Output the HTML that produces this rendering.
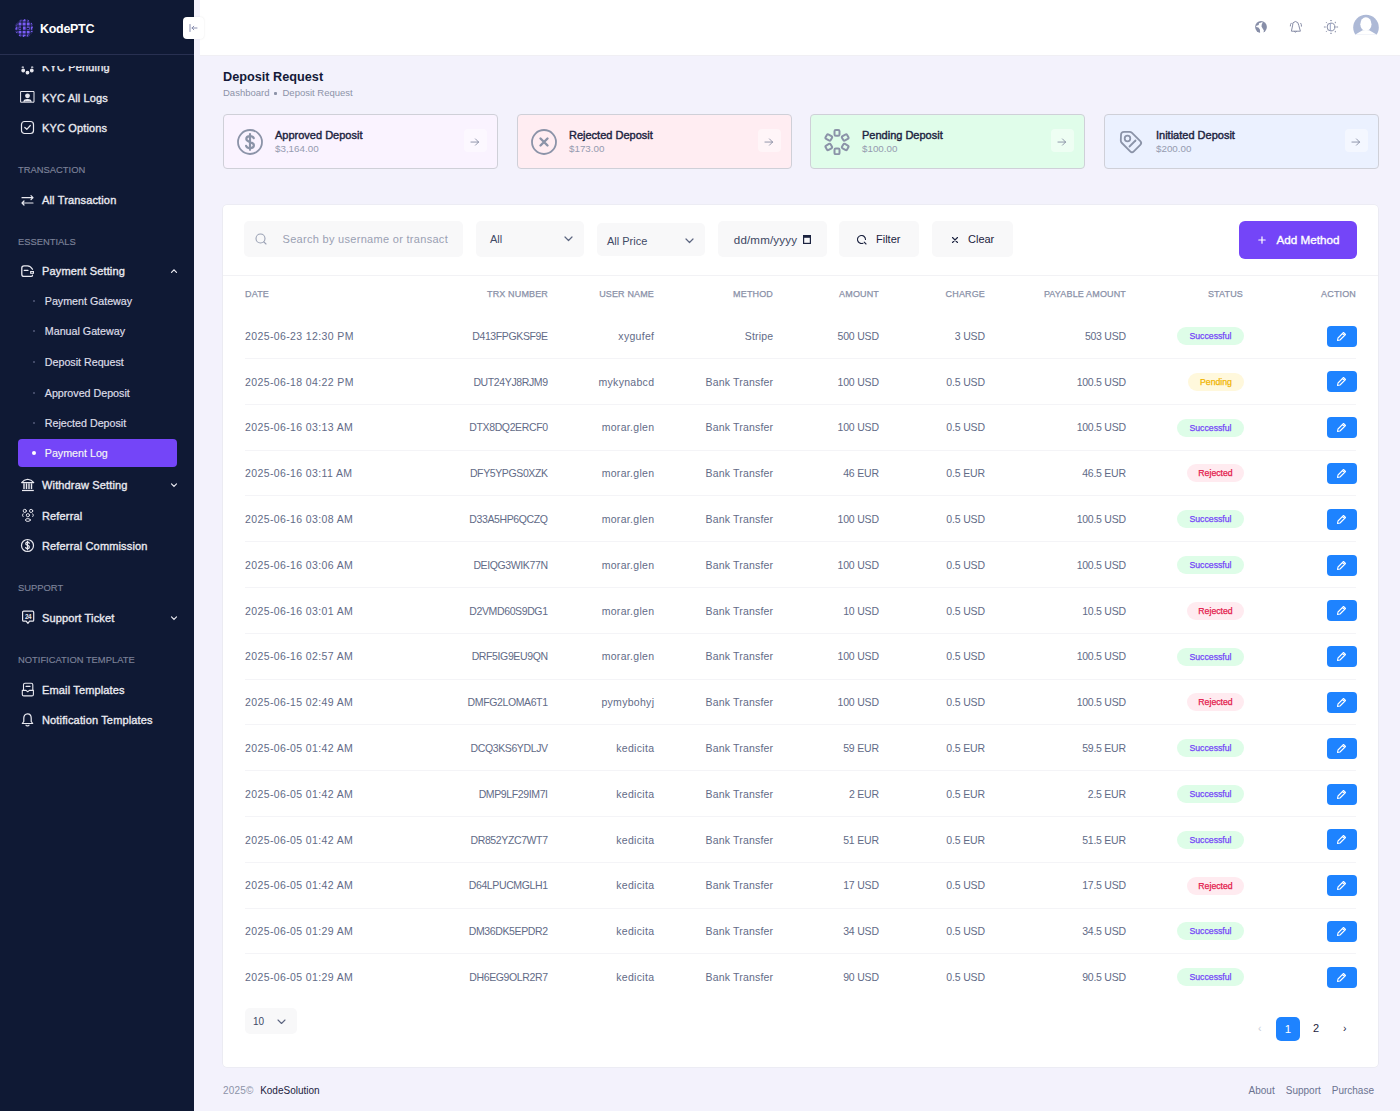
<!DOCTYPE html>
<html><head><meta charset="utf-8">
<style>
*{box-sizing:border-box;margin:0;padding:0}
html,body{width:1400px;height:1111px;overflow:hidden}
body{font-family:"Liberation Sans",sans-serif;background:#f3f2fc;position:relative;color:#5c6580}
.abs{position:absolute}
#sb{position:absolute;left:0;top:0;width:194px;height:1111px;background:#0f1934;overflow:hidden}
#sbhead{position:absolute;left:0;top:0;width:194px;height:55px;border-bottom:1px solid #283051;background:#0f1934;z-index:2}
.logo-t{position:absolute;left:40px;top:22px;font-size:12.5px;font-weight:bold;color:#fff;letter-spacing:-0.3px}
.si{position:absolute;left:0;width:194px;height:20px;color:#e9e9f0;font-size:11px;white-space:nowrap;-webkit-text-stroke:0.35px #e9e9f0;letter-spacing:0.15px}
.si .t{position:absolute;left:42px;top:4px}
.si>svg{position:absolute}
.lbl{position:absolute;left:18px;font-size:9.4px;color:#7d8299;white-space:nowrap;-webkit-text-stroke:0.15px #7d8299}
.sub{position:absolute;left:18px;width:159px;height:28px;color:#dcdce6;font-size:10.7px;white-space:nowrap;-webkit-text-stroke:0.2px #dcdce6}
.sub .t{position:absolute;left:26.8px;top:8px}
.sub .dot{position:absolute;left:14.5px;top:12.6px;width:2.6px;height:2.6px;border-radius:2px;background:#535a78}
.sub.act{background:#7445f8;border-radius:4px;color:#fff}
.sub.act .dot{background:#fff;width:3.4px;height:3.4px;left:14.2px;top:12.2px}
.chev{position:absolute;left:170px;top:6px}
#hdr{position:absolute;left:200px;top:0;width:1200px;height:56px;background:#fff;border-bottom:1px solid #f0eff4}
#tog{position:absolute;left:183px;top:17px;width:21px;height:22px;background:#fff;border-radius:4px;z-index:5;box-shadow:0 0 2px rgba(0,0,0,.1)}
.ttl{left:223px;top:70px;font-size:12.7px;font-weight:bold;color:#141a38}
.bc{left:223px;top:87px;font-size:9.5px;color:#8d93a8;white-space:nowrap}
.bdot{display:inline-block;width:3px;height:3px;background:#8d93a8;border-radius:1px;margin:0 5px;vertical-align:middle}
.card{position:absolute;top:114px;width:275px;height:55px;border:1px solid #cfd0d8;border-radius:4px}
.ct{position:absolute;left:51px;top:14px;font-size:11px;color:#1c2340;white-space:nowrap;-webkit-text-stroke:0.4px #1c2340}
.cv{position:absolute;left:51px;top:28px;font-size:9.8px;color:#959bb0;white-space:nowrap}
.carr{position:absolute;left:240px;top:14px;width:23px;height:23px;background:rgba(255,255,255,.45);border-radius:4px}
#tc{position:absolute;left:223px;top:204px;width:1155px;height:863px}
#tcbg{position:absolute;left:223px;top:205px;width:1155px;height:862px;background:#fff;border-radius:4px;box-shadow:0 0 0 0.6px #e6e6ec}
.fb{position:absolute;background:#f8f8f9;border-radius:5px}
.ph{position:absolute;left:38.5px;top:12px;font-size:11px;color:#9aa0b3;white-space:nowrap;letter-spacing:0.3px}
.ft{position:absolute;top:12px;font-size:11px;color:#414a66;white-space:nowrap}
#addm{position:absolute;left:1016px;top:17px;width:118px;height:38px;background:#7445f8;border-radius:6px;color:#fff;font-size:11.7px;-webkit-text-stroke:0.35px #fff}
#addm span{position:absolute;left:37.5px;top:12px;white-space:nowrap}
.hl{position:absolute;left:0;width:1155px;height:1px;background:#f2f2f5}
.th{position:absolute;top:85px;font-size:9px;color:#8a91a8;white-space:nowrap;letter-spacing:0.15px;-webkit-text-stroke:0.25px #8a91a8}
.td{position:absolute;font-size:10.5px;color:#626b87;white-space:nowrap}
.r{text-align:right}
.bd{position:absolute;right:134px;height:18px;border-radius:9px;font-size:8.7px;padding:4px 0 0;text-align:center;white-space:nowrap;-webkit-text-stroke:0.25px currentColor}
.bs{background:#defde8;color:#7445f8;width:67px}
.bp{background:#fff8dc;color:#f0b400;width:56px}
.br{background:#ffebf0;color:#e3194b;width:57px}
.eb{position:absolute;left:1104px;width:30px;height:21px;background:#1e83ff;border-radius:4px}
.rl{position:absolute;left:22px;width:1111px;height:1px;background:#f4f4f7}
.pg{position:absolute;top:818px;font-size:10.5px}
#p1{position:absolute;left:1053px;top:813px;width:24px;height:24px;background:#1e83ff;border-radius:5px;color:#fff;font-size:11.5px;text-align:center;padding-top:5.5px}
.ft1{left:223px;top:1085px;letter-spacing:0.2px;font-size:10px;color:#8d93a8;white-space:nowrap}
.ft2{right:26px;top:1085px;font-size:10px;color:#6b7390;white-space:nowrap}

</style></head>
<body>
<div id="hdr"><svg class="abs" style="left:1055px;top:20.8px" width="12" height="12" viewBox="0 0 12 12"><circle cx="6" cy="6" r="5.9" fill="#878ea8"/><path d="M7.3 1.1 L5.6 1.8 L4 2.3 L3.7 3.9 L1 5 L1.3 6 L3.4 6.5 L4.9 8.4 L5.1 11.9 L8.4 11.9 L8.9 9.6 L7.5 7.2 L6.5 5.6 L6.8 3.2 L7.6 1.8Z" fill="#fff"/></svg><svg class="abs" style="left:1088px;top:19px" width="16" height="16" viewBox="0 0 16 16" fill="none" stroke="#868ca6" stroke-width="1" stroke-linecap="round" stroke-linejoin="round"><path d="M5.2 3.6 Q7.4 1.2 9.8 3.6 L10.8 6.5 L12.4 12.2 H3.4 L4.6 6.5 Z"/><path d="M6.3 12.6 Q7.4 14 8.6 12.6"/><path d="M2.3 7 Q2.1 5.4 3.2 4.2"/><path d="M13.5 7.2 Q13.7 5.6 12.8 4.3"/></svg><svg class="abs" style="left:1123px;top:19.4px" width="16" height="16" viewBox="0 0 16 16" fill="none" stroke="#868ca6" stroke-width="1" stroke-linecap="round"><circle cx="8" cy="8" r="3.9"/><path d="M7.3 4.3 V11.7" stroke="#9aa6c8"/><path d="M7.6 1.6 H8.4 M7.6 14.3 H8.4 M1.3 8 H2.3 M13.7 8 H14.7 M3.4 3.5 L3.8 3.9 M12.3 3.2 V3.8 M3.4 12.5 L3.8 12.1 M12.3 12.3 V12.9"/></svg><svg class="abs" style="left:1153px;top:14px" width="26" height="26" viewBox="0 0 26 26"><defs><clipPath id="avc"><circle cx="13" cy="13.5" r="12.8"/></clipPath></defs><g clip-path="url(#avc)"><rect x="0" y="0" width="26" height="21" fill="#adb9d6"/><g fill="#fff"><ellipse cx="12.9" cy="10.2" rx="5.6" ry="6.9"/><path d="M9.6 16.3 L2 20.8 H24 L16.2 16.3 Z"/><rect x="0" y="20.6" width="26" height="6"/></g></g></svg></div>
<div id="sb"><div class="si" style="top:57px"><svg style="left:20px;top:2px" width="15" height="16" viewBox="0 0 15 16" fill="none" stroke="#e9e9f0" stroke-width="1.2" stroke-linecap="round" stroke-linejoin="round"><circle cx="3.2" cy="11.5" r="1.3" fill="#e9e9f0"/><circle cx="7.5" cy="13.6" r="1.3" fill="#e9e9f0"/><circle cx="11.8" cy="11.5" r="1.3" fill="#e9e9f0"/><path d="M2.2 8.2 H3.4 M11.6 8.2 H12.8"/></svg><span class="t">KYC Pending</span></div><div class="si" style="top:88px"><svg style="left:20px;top:2px" width="15" height="15" viewBox="0 0 15 15" fill="none" stroke="#e9e9f0" stroke-width="1.2" stroke-linecap="round" stroke-linejoin="round"><path d="M1 1.5 H14 V12.2 H1Z" stroke-width="1"/><circle cx="7.5" cy="5.8" r="1.8" fill="#e9e9f0"/><path d="M4 11.5 C4.5 9 10.5 9 11 11.5" fill="#e9e9f0"/></svg><span class="t">KYC All Logs</span></div><div class="si" style="top:118px"><svg style="left:20px;top:2px" width="15" height="15" viewBox="0 0 15 15" fill="none" stroke="#e9e9f0" stroke-width="1.2" stroke-linecap="round" stroke-linejoin="round"><rect x="1.5" y="1.5" width="12" height="12" rx="3"/><path d="M4.8 7.5 L6.8 9.3 L10.3 5.5"/></svg><span class="t">KYC Options</span></div><div class="lbl" style="top:164px">TRANSACTION</div><div class="si" style="top:190px"><svg style="left:20px;top:2px" width="15" height="15" viewBox="0 0 15 15" fill="none" stroke="#e9e9f0" stroke-width="1.2" stroke-linecap="round" stroke-linejoin="round"><path d="M2 5.7 H13 M11 3.7 L13 5.7 L11 7.7 M13 11 H2 M4 9 L2 11 L4 13"/></svg><span class="t">All Transaction</span></div><div class="lbl" style="top:236px">ESSENTIALS</div><div class="si" style="top:261px"><svg style="left:20px;top:2px" width="15" height="16" viewBox="0 0 15 16" fill="none" stroke="#e9e9f0" stroke-width="1.2" stroke-linecap="round" stroke-linejoin="round"><path d="M12.5 6.3 Q10.5 2.8 7.5 2.8 H4 Q1.8 2.8 1.8 5 V11.2 Q1.8 13.4 4 13.4 H11 Q12.5 13.4 12.5 12.2" stroke-width="1.3"/><path d="M4.2 7.4 H8" stroke-width="1.1"/><rect x="10.1" y="8" width="3.9" height="2.8" fill="#e9e9f0" stroke="none"/><rect x="11.3" y="9" width="1.5" height="0.8" fill="#0f1934" stroke="none"/></svg><span class="t">Payment Setting</span><svg class="chev" width="8" height="8" viewBox="0 0 8 8" fill="none" stroke="#e9e9f0" stroke-width="1.2" stroke-linecap="round"><path d="M1.5 5.3 L4 2.8 L6.5 5.3"/></svg></div><div class="sub" style="top:287px"><span class="dot"></span><span class="t">Payment Gateway</span></div><div class="sub" style="top:317px"><span class="dot"></span><span class="t">Manual Gateway</span></div><div class="sub" style="top:348px"><span class="dot"></span><span class="t">Deposit Request</span></div><div class="sub" style="top:379px"><span class="dot"></span><span class="t">Approved Deposit</span></div><div class="sub" style="top:409px"><span class="dot"></span><span class="t">Rejected Deposit</span></div><div class="sub act" style="top:439px"><span class="dot"></span><span class="t">Payment Log</span></div><div class="si" style="top:475px"><svg style="left:20px;top:2px" width="15" height="16" viewBox="0 0 15 16" fill="none" stroke="#e9e9f0" stroke-width="1.2" stroke-linecap="round" stroke-linejoin="round"><path d="M1.6 5.6 Q4 2.7 7.7 2.3 Q11.4 2.7 13.8 5.6 Z" stroke-width="1.1"/><g fill="#e9e9f0" stroke="none"><rect x="3.3" y="6.3" width="1.4" height="5.8"/><rect x="5.8" y="6.3" width="1.4" height="5.8"/><rect x="8.3" y="6.3" width="1.4" height="5.8"/><rect x="10.8" y="6.3" width="1.4" height="5.8"/><rect x="2" y="12.9" width="11.8" height="1.2"/></g></svg><span class="t">Withdraw Setting</span><svg class="chev" width="8" height="8" viewBox="0 0 8 8" fill="none" stroke="#e9e9f0" stroke-width="1.2" stroke-linecap="round"><path d="M1.5 2.8 L4 5.3 L6.5 2.8"/></svg></div><div class="si" style="top:506px"><svg style="left:20px;top:2px" width="15" height="16" viewBox="0 0 15 16" fill="none" stroke="#e9e9f0" stroke-width="1.2" stroke-linecap="round" stroke-linejoin="round"><g stroke-width="0.95"><circle cx="4.8" cy="2.9" r="1.6"/><circle cx="11.1" cy="2.9" r="1.6"/><circle cx="7.9" cy="7.2" r="1.6"/><ellipse cx="7.9" cy="12" rx="2.5" ry="1.4"/><path d="M3 5.8 Q1.6 7.2 3 8.6 M12.8 5.8 Q14.2 7.2 12.8 8.6"/></g></svg><span class="t">Referral</span></div><div class="si" style="top:536px"><svg style="left:20px;top:2px" width="15" height="15" viewBox="0 0 15 15" fill="none" stroke="#e9e9f0" stroke-width="1.2" stroke-linecap="round" stroke-linejoin="round"><circle cx="7.5" cy="7.5" r="6"/><path d="M9.3 5.3 C9 4.5 8.3 4.2 7.5 4.2 C6.5 4.2 5.7 4.8 5.7 5.7 C5.7 7.5 9.4 6.8 9.4 9 C9.4 10 8.5 10.7 7.5 10.7 C6.6 10.7 5.9 10.3 5.6 9.5 M7.5 3.2 V11.8"/></svg><span class="t">Referral Commission</span></div><div class="lbl" style="top:582px">SUPPORT</div><div class="si" style="top:608px"><svg style="left:20px;top:2px" width="15" height="16" viewBox="0 0 15 16" fill="none" stroke="#e9e9f0" stroke-width="1.2" stroke-linecap="round" stroke-linejoin="round"><path d="M2.6 2.2 Q2.6 1.1 3.7 1.1 H12.6 Q13.7 1.1 13.7 2.2 V10.2 Q13.7 11.2 12.6 11.2 H9.6 L7.9 13.4 L6.2 11.2 H3.7 Q2.6 11.2 2.6 10.2 Z" stroke-width="1.2"/><text x="8.1" y="9" text-anchor="middle" font-size="6.3" font-weight="bold" fill="#e9e9f0" stroke="none" font-family="Liberation Sans" letter-spacing="-0.3">24</text></svg><span class="t">Support Ticket</span><svg class="chev" width="8" height="8" viewBox="0 0 8 8" fill="none" stroke="#e9e9f0" stroke-width="1.2" stroke-linecap="round"><path d="M1.5 2.8 L4 5.3 L6.5 2.8"/></svg></div><div class="lbl" style="top:654px">NOTIFICATION TEMPLATE</div><div class="si" style="top:680px"><svg style="left:20px;top:2px" width="15" height="16" viewBox="0 0 15 16" fill="none" stroke="#e9e9f0" stroke-width="1.2" stroke-linecap="round" stroke-linejoin="round"><path d="M3.5 8 V2.8 Q3.5 1.2 5 1.2 H11.2 Q12.8 1.2 12.8 2.8 V8" stroke-width="1.1"/><path d="M6 4.4 H10" stroke-width="1.1"/><path d="M2.3 8.4 H6 L7.7 9.7 L9.4 8.4 H13.4 V12.4 Q13.4 13.9 11.9 13.9 H3.8 Q2.3 13.9 2.3 12.4 Z" stroke-width="1.1"/></svg><span class="t">Email Templates</span></div><div class="si" style="top:710px"><svg style="left:20px;top:2px" width="15" height="15" viewBox="0 0 15 15" fill="none" stroke="#e9e9f0" stroke-width="1.2" stroke-linecap="round" stroke-linejoin="round"><path d="M7.5 1.8 C5 1.8 3.8 3.8 3.8 6 V9.5 L2.3 11.5 H12.7 L11.2 9.5 V6 C11.2 3.8 10 1.8 7.5 1.8Z"/><path d="M6 13.2 C6.5 14 8.5 14 9 13.2"/></svg><span class="t">Notification Templates</span></div><div class="abs" style="left:0;top:54px;width:194px;height:12px;background:#0f1934;z-index:1"></div><div id="sbhead"><svg class="abs" style="left:14.9px;top:18.6px" width="18.4" height="18.4" viewBox="0 0 18.4 18.4"><circle cx="9.2" cy="9.2" r="9.1" fill="#7a5df6"/><g stroke="#0f1934" stroke-width="1.1" fill="none"><path d="M0 3 H18.4 M0 7 H18.4 M0 11.2 H18.4 M0 15 H18.4 M3 0 V18.4 M7 0 V18.4 M11.2 0 V18.4 M15.2 0 V18.4"/><path d="M7 7 V11.2 M5 8.5 V10 M12 9.5 H14" stroke-width="1.5"/></g><circle cx="9.2" cy="9.2" r="8.6" fill="none" stroke="#0f1934" stroke-width="1" stroke-dasharray="2.2 1.6"/></svg><div class="logo-t">KodePTC</div></div></div>
<div id="tog"><svg class="abs" style="left:6px;top:7px" width="9" height="8" viewBox="0 0 9 8" fill="none" stroke="#8a8fb0" stroke-width="1" stroke-linecap="round"><path d="M1 0.5 V7.5 M8 4 H3 M4.8 2.2 L3 4 L4.8 5.8"/></svg></div>
<div class="abs ttl">Deposit Request</div><div class="abs bc">Dashboard<span class="bdot"></span>Deposit Request</div>
<div class="card" style="left:223px;background:#faf3ff"><svg class="abs" style="left:13px;top:14px" width="26" height="26" viewBox="0 0 26 26" fill="none" stroke="#8b93a8" stroke-width="1.8" stroke-linecap="round" stroke-linejoin="round"><circle cx="13" cy="13" r="12"/><path d="M16.8 9.2 C16.2 7.8 14.8 7.2 13 7.2 C10.8 7.2 9.3 8.4 9.3 10.1 C9.3 13.9 16.9 12.3 16.9 16.2 C16.9 18 15.3 19.1 13 19.1 C11 19.1 9.6 18.3 9.1 16.8 M13 5.2 V20.8" stroke-width="2.2"/></svg><div class="ct">Approved Deposit</div><div class="cv">$3,164.00</div><div class="carr"><svg class="abs" style="left:5.5px;top:8.5px" width="10" height="9" viewBox="0 0 10 10" fill="none" stroke="#7a8299" stroke-width="0.9" stroke-linecap="round" stroke-linejoin="round"><path d="M0.5 4.5 H9 M5.5 1 L9 4.5 L5.5 8"/></svg></div></div>
<div class="card" style="left:517px;background:#ffedf2"><svg class="abs" style="left:13px;top:14px" width="26" height="26" viewBox="0 0 26 26" fill="none" stroke="#8b93a8" stroke-width="1.8" stroke-linecap="round" stroke-linejoin="round"><circle cx="13" cy="13" r="12"/><path d="M9.5 9.5 L16.5 16.5 M16.5 9.5 L9.5 16.5" stroke-width="2.4"/></svg><div class="ct">Rejected Deposit</div><div class="cv">$173.00</div><div class="carr"><svg class="abs" style="left:5.5px;top:8.5px" width="10" height="9" viewBox="0 0 10 10" fill="none" stroke="#7a8299" stroke-width="0.9" stroke-linecap="round" stroke-linejoin="round"><path d="M0.5 4.5 H9 M5.5 1 L9 4.5 L5.5 8"/></svg></div></div>
<div class="card" style="left:810px;background:#e0fdea"><svg class="abs" style="left:13px;top:14px" width="26" height="26" viewBox="0 0 26 26" fill="none" stroke="#8b93a8" stroke-width="1.8" stroke-linecap="round" stroke-linejoin="round"><rect x="10.5" y="1" width="5" height="5.8" rx="1.3" stroke-width="2" transform="rotate(0 13.0 3.9)"/><rect x="10.5" y="19.4" width="5" height="5.8" rx="1.3" stroke-width="2" transform="rotate(0 13.0 22.299999999999997)"/><rect x="2.3" y="5.6" width="5" height="5.8" rx="1.3" stroke-width="2" transform="rotate(-60 4.8 8.5)"/><rect x="18.7" y="5.6" width="5" height="5.8" rx="1.3" stroke-width="2" transform="rotate(60 21.2 8.5)"/><rect x="2.3" y="15" width="5" height="5.8" rx="1.3" stroke-width="2" transform="rotate(60 4.8 17.9)"/><rect x="18.7" y="15" width="5" height="5.8" rx="1.3" stroke-width="2" transform="rotate(-60 21.2 17.9)"/></svg><div class="ct">Pending Deposit</div><div class="cv">$100.00</div><div class="carr"><svg class="abs" style="left:5.5px;top:8.5px" width="10" height="9" viewBox="0 0 10 10" fill="none" stroke="#7a8299" stroke-width="0.9" stroke-linecap="round" stroke-linejoin="round"><path d="M0.5 4.5 H9 M5.5 1 L9 4.5 L5.5 8"/></svg></div></div>
<div class="card" style="left:1104px;background:#ebf1ff"><svg class="abs" style="left:13px;top:14px" width="26" height="26" viewBox="0 0 26 26" fill="none" stroke="#8b93a8" stroke-width="1.8" stroke-linecap="round" stroke-linejoin="round"><path d="M3 6 C3 4 4.2 2.8 6 2.8 H11.5 C12.5 2.8 13.3 3.2 14 3.9 L22.3 12.2 C23.3 13.2 23.3 14.8 22.3 15.8 L15.8 22.3 C14.8 23.3 13.2 23.3 12.2 22.3 L3.9 14 C3.2 13.3 2.8 12.5 2.8 11.5Z"/><circle cx="9.5" cy="9.5" r="2.8"/><path d="M11.5 17.5 L17.5 11.5"/></svg><div class="ct">Initiated Deposit</div><div class="cv">$200.00</div><div class="carr"><svg class="abs" style="left:5.5px;top:8.5px" width="10" height="9" viewBox="0 0 10 10" fill="none" stroke="#7a8299" stroke-width="0.9" stroke-linecap="round" stroke-linejoin="round"><path d="M0.5 4.5 H9 M5.5 1 L9 4.5 L5.5 8"/></svg></div></div>
<div id="tcbg"></div><div id="tc"><div class="fb" style="left:21px;top:17px;width:219px;height:36px"><svg class="abs" style="left:11px;top:12px" width="12" height="12" viewBox="0 0 12 12" fill="none" stroke="#9aa1b4" stroke-width="1.1" stroke-linecap="round"><circle cx="5.5" cy="5.5" r="4.5"/><path d="M8.8 8.8 L11 11"/></svg><span class="ph">Search by username or transact</span></div><div class="fb" style="left:253px;top:17px;width:108px;height:36px"><span class="ft" style="left:14px">All</span><svg class="abs" style="left:88px;top:15px" width="9" height="6" viewBox="0 0 9 6" fill="none" stroke="#5c6580" stroke-width="1.2" stroke-linecap="round" stroke-linejoin="round"><path d="M1 1 L4.5 4.5 L8 1"/></svg></div><div class="fb" style="left:374px;top:19px;width:108px;height:33px"><span class="ft" style="left:10px;top:12px">All Price</span><svg class="abs" style="left:88px;top:15px" width="9" height="6" viewBox="0 0 9 6" fill="none" stroke="#5c6580" stroke-width="1.2" stroke-linecap="round" stroke-linejoin="round"><path d="M1 1 L4.5 4.5 L8 1"/></svg></div><div class="fb" style="left:495px;top:17px;width:109px;height:36px"><span class="ft" style="left:15.8px;top:11.5px;font-size:11.6px;letter-spacing:0.15px;color:#3d4663">dd/mm/yyyy</span><svg class="abs" style="left:84.5px;top:13.5px" width="8" height="9" viewBox="0 0 8 9"><rect x="0.6" y="0.6" width="6.8" height="7.8" fill="none" stroke="#1c2340" stroke-width="1.2"/><rect x="0.6" y="0.6" width="6.8" height="2.2" fill="#1c2340"/></svg></div><div class="fb" style="left:616px;top:17px;width:80px;height:36px"><svg class="abs" style="left:18px;top:14px" width="10" height="10" viewBox="0 0 10 10" fill="none" stroke="#1c2340" stroke-width="1.1" stroke-linecap="round"><path d="M8.5 4.5 A4 4 0 1 0 6 8.2"/><path d="M7.2 7.2 L9 9"/></svg><span class="ft" style="left:37px;color:#1c2340">Filter</span></div><div class="fb" style="left:709px;top:17px;width:81px;height:36px"><svg class="abs" style="left:19px;top:15px" width="8" height="8" viewBox="0 0 8 8" fill="none" stroke="#1c2340" stroke-width="1.1" stroke-linecap="round"><path d="M1.5 1.5 L6.5 6.5 M6.5 1.5 L1.5 6.5"/></svg><span class="ft" style="left:36px;color:#1c2340">Clear</span></div><div id="addm"><svg class="abs" style="left:18.5px;top:15px" width="8" height="8" viewBox="0 0 8 8" fill="none" stroke="#fff" stroke-width="1.2" stroke-linecap="round"><path d="M4 0.8 V7.2 M0.8 4 H7.2"/></svg><span>Add Method</span></div><div class="hl" style="top:71px"></div><div class="th" style="left:22px">DATE</div><div class="th r" style="right:830px">TRX NUMBER</div><div class="th r" style="right:724px">USER NAME</div><div class="th r" style="right:605px">METHOD</div><div class="th r" style="right:499px">AMOUNT</div><div class="th r" style="right:393px">CHARGE</div><div class="th r" style="right:252px">PAYABLE AMOUNT</div><div class="th r" style="right:135px">STATUS</div><div class="th r" style="right:22px">ACTION</div><div class="td" style="left:22px;top:125.7px;letter-spacing:0.38px">2025-06-23 12:30 PM</div><div class="td r" style="right:830px;top:125.7px;letter-spacing:-0.38px;margin-right:0.38px">D413FPGKSF9E</div><div class="td r" style="right:724px;top:125.7px;letter-spacing:0.3px;margin-right:-0.3px">xygufef</div><div class="td r" style="right:605px;top:125.7px;letter-spacing:0.17px;margin-right:-0.17px">Stripe</div><div class="td r" style="right:499px;top:125.7px;letter-spacing:-0.2px;margin-right:0.2px">500 USD</div><div class="td r" style="right:393px;top:125.7px;letter-spacing:-0.15px;margin-right:0.15px">3 USD</div><div class="td r" style="right:252px;top:125.7px;letter-spacing:-0.25px;margin-right:0.25px">503 USD</div><div class="bd bs" style="top:123.0px">Successful</div><div class="eb" style="top:121.5px"><svg class="abs" style="left:9px;top:5px" width="11" height="11" viewBox="0 0 11 11" fill="none" stroke="#fff" stroke-width="1.1" stroke-linejoin="round"><path d="M7.5 1.5 L9.5 3.5 L4 9 L1.5 9.5 L2 7 Z M6.5 2.5 L8.5 4.5"/></svg></div><div class="rl" style="top:154.0px"></div><div class="td" style="left:22px;top:171.5px;letter-spacing:0.38px">2025-06-18 04:22 PM</div><div class="td r" style="right:830px;top:171.5px;letter-spacing:-0.38px;margin-right:0.38px">DUT24YJ8RJM9</div><div class="td r" style="right:724px;top:171.5px;letter-spacing:0.3px;margin-right:-0.3px">mykynabcd</div><div class="td r" style="right:605px;top:171.5px;letter-spacing:0.17px;margin-right:-0.17px">Bank Transfer</div><div class="td r" style="right:499px;top:171.5px;letter-spacing:-0.2px;margin-right:0.2px">100 USD</div><div class="td r" style="right:393px;top:171.5px;letter-spacing:-0.15px;margin-right:0.15px">0.5 USD</div><div class="td r" style="right:252px;top:171.5px;letter-spacing:-0.25px;margin-right:0.25px">100.5 USD</div><div class="bd bp" style="top:168.8px">Pending</div><div class="eb" style="top:167.3px"><svg class="abs" style="left:9px;top:5px" width="11" height="11" viewBox="0 0 11 11" fill="none" stroke="#fff" stroke-width="1.1" stroke-linejoin="round"><path d="M7.5 1.5 L9.5 3.5 L4 9 L1.5 9.5 L2 7 Z M6.5 2.5 L8.5 4.5"/></svg></div><div class="rl" style="top:199.8px"></div><div class="td" style="left:22px;top:217.3px;letter-spacing:0.38px">2025-06-16 03:13 AM</div><div class="td r" style="right:830px;top:217.3px;letter-spacing:-0.38px;margin-right:0.38px">DTX8DQ2ERCF0</div><div class="td r" style="right:724px;top:217.3px;letter-spacing:0.3px;margin-right:-0.3px">morar.glen</div><div class="td r" style="right:605px;top:217.3px;letter-spacing:0.17px;margin-right:-0.17px">Bank Transfer</div><div class="td r" style="right:499px;top:217.3px;letter-spacing:-0.2px;margin-right:0.2px">100 USD</div><div class="td r" style="right:393px;top:217.3px;letter-spacing:-0.15px;margin-right:0.15px">0.5 USD</div><div class="td r" style="right:252px;top:217.3px;letter-spacing:-0.25px;margin-right:0.25px">100.5 USD</div><div class="bd bs" style="top:214.6px">Successful</div><div class="eb" style="top:213.1px"><svg class="abs" style="left:9px;top:5px" width="11" height="11" viewBox="0 0 11 11" fill="none" stroke="#fff" stroke-width="1.1" stroke-linejoin="round"><path d="M7.5 1.5 L9.5 3.5 L4 9 L1.5 9.5 L2 7 Z M6.5 2.5 L8.5 4.5"/></svg></div><div class="rl" style="top:245.6px"></div><div class="td" style="left:22px;top:263.1px;letter-spacing:0.38px">2025-06-16 03:11 AM</div><div class="td r" style="right:830px;top:263.1px;letter-spacing:-0.38px;margin-right:0.38px">DFY5YPGS0XZK</div><div class="td r" style="right:724px;top:263.1px;letter-spacing:0.3px;margin-right:-0.3px">morar.glen</div><div class="td r" style="right:605px;top:263.1px;letter-spacing:0.17px;margin-right:-0.17px">Bank Transfer</div><div class="td r" style="right:499px;top:263.1px;letter-spacing:-0.2px;margin-right:0.2px">46 EUR</div><div class="td r" style="right:393px;top:263.1px;letter-spacing:-0.15px;margin-right:0.15px">0.5 EUR</div><div class="td r" style="right:252px;top:263.1px;letter-spacing:-0.25px;margin-right:0.25px">46.5 EUR</div><div class="bd br" style="top:260.4px">Rejected</div><div class="eb" style="top:258.9px"><svg class="abs" style="left:9px;top:5px" width="11" height="11" viewBox="0 0 11 11" fill="none" stroke="#fff" stroke-width="1.1" stroke-linejoin="round"><path d="M7.5 1.5 L9.5 3.5 L4 9 L1.5 9.5 L2 7 Z M6.5 2.5 L8.5 4.5"/></svg></div><div class="rl" style="top:291.4px"></div><div class="td" style="left:22px;top:308.9px;letter-spacing:0.38px">2025-06-16 03:08 AM</div><div class="td r" style="right:830px;top:308.9px;letter-spacing:-0.38px;margin-right:0.38px">D33A5HP6QCZQ</div><div class="td r" style="right:724px;top:308.9px;letter-spacing:0.3px;margin-right:-0.3px">morar.glen</div><div class="td r" style="right:605px;top:308.9px;letter-spacing:0.17px;margin-right:-0.17px">Bank Transfer</div><div class="td r" style="right:499px;top:308.9px;letter-spacing:-0.2px;margin-right:0.2px">100 USD</div><div class="td r" style="right:393px;top:308.9px;letter-spacing:-0.15px;margin-right:0.15px">0.5 USD</div><div class="td r" style="right:252px;top:308.9px;letter-spacing:-0.25px;margin-right:0.25px">100.5 USD</div><div class="bd bs" style="top:306.2px">Successful</div><div class="eb" style="top:304.7px"><svg class="abs" style="left:9px;top:5px" width="11" height="11" viewBox="0 0 11 11" fill="none" stroke="#fff" stroke-width="1.1" stroke-linejoin="round"><path d="M7.5 1.5 L9.5 3.5 L4 9 L1.5 9.5 L2 7 Z M6.5 2.5 L8.5 4.5"/></svg></div><div class="rl" style="top:337.2px"></div><div class="td" style="left:22px;top:354.7px;letter-spacing:0.38px">2025-06-16 03:06 AM</div><div class="td r" style="right:830px;top:354.7px;letter-spacing:-0.38px;margin-right:0.38px">DEIQG3WIK77N</div><div class="td r" style="right:724px;top:354.7px;letter-spacing:0.3px;margin-right:-0.3px">morar.glen</div><div class="td r" style="right:605px;top:354.7px;letter-spacing:0.17px;margin-right:-0.17px">Bank Transfer</div><div class="td r" style="right:499px;top:354.7px;letter-spacing:-0.2px;margin-right:0.2px">100 USD</div><div class="td r" style="right:393px;top:354.7px;letter-spacing:-0.15px;margin-right:0.15px">0.5 USD</div><div class="td r" style="right:252px;top:354.7px;letter-spacing:-0.25px;margin-right:0.25px">100.5 USD</div><div class="bd bs" style="top:352.0px">Successful</div><div class="eb" style="top:350.5px"><svg class="abs" style="left:9px;top:5px" width="11" height="11" viewBox="0 0 11 11" fill="none" stroke="#fff" stroke-width="1.1" stroke-linejoin="round"><path d="M7.5 1.5 L9.5 3.5 L4 9 L1.5 9.5 L2 7 Z M6.5 2.5 L8.5 4.5"/></svg></div><div class="rl" style="top:383.0px"></div><div class="td" style="left:22px;top:400.5px;letter-spacing:0.38px">2025-06-16 03:01 AM</div><div class="td r" style="right:830px;top:400.5px;letter-spacing:-0.38px;margin-right:0.38px">D2VMD60S9DG1</div><div class="td r" style="right:724px;top:400.5px;letter-spacing:0.3px;margin-right:-0.3px">morar.glen</div><div class="td r" style="right:605px;top:400.5px;letter-spacing:0.17px;margin-right:-0.17px">Bank Transfer</div><div class="td r" style="right:499px;top:400.5px;letter-spacing:-0.2px;margin-right:0.2px">10 USD</div><div class="td r" style="right:393px;top:400.5px;letter-spacing:-0.15px;margin-right:0.15px">0.5 USD</div><div class="td r" style="right:252px;top:400.5px;letter-spacing:-0.25px;margin-right:0.25px">10.5 USD</div><div class="bd br" style="top:397.8px">Rejected</div><div class="eb" style="top:396.3px"><svg class="abs" style="left:9px;top:5px" width="11" height="11" viewBox="0 0 11 11" fill="none" stroke="#fff" stroke-width="1.1" stroke-linejoin="round"><path d="M7.5 1.5 L9.5 3.5 L4 9 L1.5 9.5 L2 7 Z M6.5 2.5 L8.5 4.5"/></svg></div><div class="rl" style="top:428.8px"></div><div class="td" style="left:22px;top:446.3px;letter-spacing:0.38px">2025-06-16 02:57 AM</div><div class="td r" style="right:830px;top:446.3px;letter-spacing:-0.38px;margin-right:0.38px">DRF5IG9EU9QN</div><div class="td r" style="right:724px;top:446.3px;letter-spacing:0.3px;margin-right:-0.3px">morar.glen</div><div class="td r" style="right:605px;top:446.3px;letter-spacing:0.17px;margin-right:-0.17px">Bank Transfer</div><div class="td r" style="right:499px;top:446.3px;letter-spacing:-0.2px;margin-right:0.2px">100 USD</div><div class="td r" style="right:393px;top:446.3px;letter-spacing:-0.15px;margin-right:0.15px">0.5 USD</div><div class="td r" style="right:252px;top:446.3px;letter-spacing:-0.25px;margin-right:0.25px">100.5 USD</div><div class="bd bs" style="top:443.6px">Successful</div><div class="eb" style="top:442.1px"><svg class="abs" style="left:9px;top:5px" width="11" height="11" viewBox="0 0 11 11" fill="none" stroke="#fff" stroke-width="1.1" stroke-linejoin="round"><path d="M7.5 1.5 L9.5 3.5 L4 9 L1.5 9.5 L2 7 Z M6.5 2.5 L8.5 4.5"/></svg></div><div class="rl" style="top:474.6px"></div><div class="td" style="left:22px;top:492.1px;letter-spacing:0.38px">2025-06-15 02:49 AM</div><div class="td r" style="right:830px;top:492.1px;letter-spacing:-0.38px;margin-right:0.38px">DMFG2LOMA6T1</div><div class="td r" style="right:724px;top:492.1px;letter-spacing:0.3px;margin-right:-0.3px">pymybohyj</div><div class="td r" style="right:605px;top:492.1px;letter-spacing:0.17px;margin-right:-0.17px">Bank Transfer</div><div class="td r" style="right:499px;top:492.1px;letter-spacing:-0.2px;margin-right:0.2px">100 USD</div><div class="td r" style="right:393px;top:492.1px;letter-spacing:-0.15px;margin-right:0.15px">0.5 USD</div><div class="td r" style="right:252px;top:492.1px;letter-spacing:-0.25px;margin-right:0.25px">100.5 USD</div><div class="bd br" style="top:489.4px">Rejected</div><div class="eb" style="top:487.9px"><svg class="abs" style="left:9px;top:5px" width="11" height="11" viewBox="0 0 11 11" fill="none" stroke="#fff" stroke-width="1.1" stroke-linejoin="round"><path d="M7.5 1.5 L9.5 3.5 L4 9 L1.5 9.5 L2 7 Z M6.5 2.5 L8.5 4.5"/></svg></div><div class="rl" style="top:520.4px"></div><div class="td" style="left:22px;top:537.9px;letter-spacing:0.38px">2025-06-05 01:42 AM</div><div class="td r" style="right:830px;top:537.9px;letter-spacing:-0.38px;margin-right:0.38px">DCQ3KS6YDLJV</div><div class="td r" style="right:724px;top:537.9px;letter-spacing:0.3px;margin-right:-0.3px">kedicita</div><div class="td r" style="right:605px;top:537.9px;letter-spacing:0.17px;margin-right:-0.17px">Bank Transfer</div><div class="td r" style="right:499px;top:537.9px;letter-spacing:-0.2px;margin-right:0.2px">59 EUR</div><div class="td r" style="right:393px;top:537.9px;letter-spacing:-0.15px;margin-right:0.15px">0.5 EUR</div><div class="td r" style="right:252px;top:537.9px;letter-spacing:-0.25px;margin-right:0.25px">59.5 EUR</div><div class="bd bs" style="top:535.2px">Successful</div><div class="eb" style="top:533.7px"><svg class="abs" style="left:9px;top:5px" width="11" height="11" viewBox="0 0 11 11" fill="none" stroke="#fff" stroke-width="1.1" stroke-linejoin="round"><path d="M7.5 1.5 L9.5 3.5 L4 9 L1.5 9.5 L2 7 Z M6.5 2.5 L8.5 4.5"/></svg></div><div class="rl" style="top:566.2px"></div><div class="td" style="left:22px;top:583.7px;letter-spacing:0.38px">2025-06-05 01:42 AM</div><div class="td r" style="right:830px;top:583.7px;letter-spacing:-0.38px;margin-right:0.38px">DMP9LF29IM7I</div><div class="td r" style="right:724px;top:583.7px;letter-spacing:0.3px;margin-right:-0.3px">kedicita</div><div class="td r" style="right:605px;top:583.7px;letter-spacing:0.17px;margin-right:-0.17px">Bank Transfer</div><div class="td r" style="right:499px;top:583.7px;letter-spacing:-0.2px;margin-right:0.2px">2 EUR</div><div class="td r" style="right:393px;top:583.7px;letter-spacing:-0.15px;margin-right:0.15px">0.5 EUR</div><div class="td r" style="right:252px;top:583.7px;letter-spacing:-0.25px;margin-right:0.25px">2.5 EUR</div><div class="bd bs" style="top:581.0px">Successful</div><div class="eb" style="top:579.5px"><svg class="abs" style="left:9px;top:5px" width="11" height="11" viewBox="0 0 11 11" fill="none" stroke="#fff" stroke-width="1.1" stroke-linejoin="round"><path d="M7.5 1.5 L9.5 3.5 L4 9 L1.5 9.5 L2 7 Z M6.5 2.5 L8.5 4.5"/></svg></div><div class="rl" style="top:612.0px"></div><div class="td" style="left:22px;top:629.5px;letter-spacing:0.38px">2025-06-05 01:42 AM</div><div class="td r" style="right:830px;top:629.5px;letter-spacing:-0.38px;margin-right:0.38px">DR852YZC7WT7</div><div class="td r" style="right:724px;top:629.5px;letter-spacing:0.3px;margin-right:-0.3px">kedicita</div><div class="td r" style="right:605px;top:629.5px;letter-spacing:0.17px;margin-right:-0.17px">Bank Transfer</div><div class="td r" style="right:499px;top:629.5px;letter-spacing:-0.2px;margin-right:0.2px">51 EUR</div><div class="td r" style="right:393px;top:629.5px;letter-spacing:-0.15px;margin-right:0.15px">0.5 EUR</div><div class="td r" style="right:252px;top:629.5px;letter-spacing:-0.25px;margin-right:0.25px">51.5 EUR</div><div class="bd bs" style="top:626.8px">Successful</div><div class="eb" style="top:625.3px"><svg class="abs" style="left:9px;top:5px" width="11" height="11" viewBox="0 0 11 11" fill="none" stroke="#fff" stroke-width="1.1" stroke-linejoin="round"><path d="M7.5 1.5 L9.5 3.5 L4 9 L1.5 9.5 L2 7 Z M6.5 2.5 L8.5 4.5"/></svg></div><div class="rl" style="top:657.8px"></div><div class="td" style="left:22px;top:675.3px;letter-spacing:0.38px">2025-06-05 01:42 AM</div><div class="td r" style="right:830px;top:675.3px;letter-spacing:-0.38px;margin-right:0.38px">D64LPUCMGLH1</div><div class="td r" style="right:724px;top:675.3px;letter-spacing:0.3px;margin-right:-0.3px">kedicita</div><div class="td r" style="right:605px;top:675.3px;letter-spacing:0.17px;margin-right:-0.17px">Bank Transfer</div><div class="td r" style="right:499px;top:675.3px;letter-spacing:-0.2px;margin-right:0.2px">17 USD</div><div class="td r" style="right:393px;top:675.3px;letter-spacing:-0.15px;margin-right:0.15px">0.5 USD</div><div class="td r" style="right:252px;top:675.3px;letter-spacing:-0.25px;margin-right:0.25px">17.5 USD</div><div class="bd br" style="top:672.6px">Rejected</div><div class="eb" style="top:671.1px"><svg class="abs" style="left:9px;top:5px" width="11" height="11" viewBox="0 0 11 11" fill="none" stroke="#fff" stroke-width="1.1" stroke-linejoin="round"><path d="M7.5 1.5 L9.5 3.5 L4 9 L1.5 9.5 L2 7 Z M6.5 2.5 L8.5 4.5"/></svg></div><div class="rl" style="top:703.6px"></div><div class="td" style="left:22px;top:721.1px;letter-spacing:0.38px">2025-06-05 01:29 AM</div><div class="td r" style="right:830px;top:721.1px;letter-spacing:-0.38px;margin-right:0.38px">DM36DK5EPDR2</div><div class="td r" style="right:724px;top:721.1px;letter-spacing:0.3px;margin-right:-0.3px">kedicita</div><div class="td r" style="right:605px;top:721.1px;letter-spacing:0.17px;margin-right:-0.17px">Bank Transfer</div><div class="td r" style="right:499px;top:721.1px;letter-spacing:-0.2px;margin-right:0.2px">34 USD</div><div class="td r" style="right:393px;top:721.1px;letter-spacing:-0.15px;margin-right:0.15px">0.5 USD</div><div class="td r" style="right:252px;top:721.1px;letter-spacing:-0.25px;margin-right:0.25px">34.5 USD</div><div class="bd bs" style="top:718.4px">Successful</div><div class="eb" style="top:716.9px"><svg class="abs" style="left:9px;top:5px" width="11" height="11" viewBox="0 0 11 11" fill="none" stroke="#fff" stroke-width="1.1" stroke-linejoin="round"><path d="M7.5 1.5 L9.5 3.5 L4 9 L1.5 9.5 L2 7 Z M6.5 2.5 L8.5 4.5"/></svg></div><div class="rl" style="top:749.4px"></div><div class="td" style="left:22px;top:766.9px;letter-spacing:0.38px">2025-06-05 01:29 AM</div><div class="td r" style="right:830px;top:766.9px;letter-spacing:-0.38px;margin-right:0.38px">DH6EG9OLR2R7</div><div class="td r" style="right:724px;top:766.9px;letter-spacing:0.3px;margin-right:-0.3px">kedicita</div><div class="td r" style="right:605px;top:766.9px;letter-spacing:0.17px;margin-right:-0.17px">Bank Transfer</div><div class="td r" style="right:499px;top:766.9px;letter-spacing:-0.2px;margin-right:0.2px">90 USD</div><div class="td r" style="right:393px;top:766.9px;letter-spacing:-0.15px;margin-right:0.15px">0.5 USD</div><div class="td r" style="right:252px;top:766.9px;letter-spacing:-0.25px;margin-right:0.25px">90.5 USD</div><div class="bd bs" style="top:764.2px">Successful</div><div class="eb" style="top:762.7px"><svg class="abs" style="left:9px;top:5px" width="11" height="11" viewBox="0 0 11 11" fill="none" stroke="#fff" stroke-width="1.1" stroke-linejoin="round"><path d="M7.5 1.5 L9.5 3.5 L4 9 L1.5 9.5 L2 7 Z M6.5 2.5 L8.5 4.5"/></svg></div><div class="fb" style="left:22px;top:804px;width:52px;height:26px"><span class="ft" style="left:8px;top:8px;font-size:10px">10</span><svg class="abs" style="left:32px;top:11px" width="9" height="6" viewBox="0 0 9 6" fill="none" stroke="#5c6580" stroke-width="1.1" stroke-linecap="round" stroke-linejoin="round"><path d="M1 1 L4.5 4.5 L8 1"/></svg></div><div class="pg" style="left:1035px;color:#c9cdd8">‹</div><div id="p1">1</div><div class="pg" style="left:1090px;color:#1c2340;font-size:11px;top:818px">2</div><div class="pg" style="left:1120px;color:#1c2340">›</div></div>
<div class="abs ft1">2025©<span style="color:#1c2340;margin-left:6.5px;letter-spacing:0">KodeSolution</span></div><div class="abs ft2">About<span style="display:inline-block;width:11px"></span>Support<span style="display:inline-block;width:11px"></span>Purchase</div>
</body></html>
